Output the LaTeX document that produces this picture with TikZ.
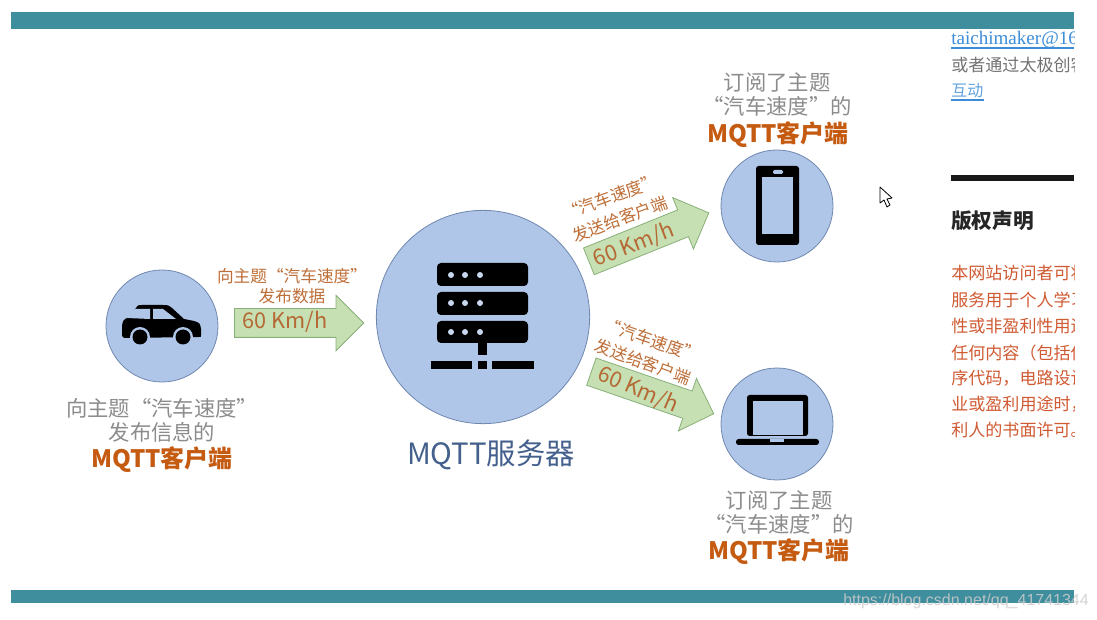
\documentclass[tikz,border=0pt]{standalone}
\usepackage{fontspec}
\setmainfont{Noto Sans CJK SC}
\newfontfamily\latinserif{Liberation Serif}
\newfontfamily\latinsans{Liberation Sans}
\usetikzlibrary{shapes.arrows}
\definecolor{tealbar}{RGB}{63, 142, 158}
\definecolor{bubbleblue}{RGB}{176, 198, 232}
\definecolor{bubbleline}{RGB}{112, 136, 176}
\definecolor{arrowgreen}{RGB}{198, 224, 180}
\definecolor{arrowline}{RGB}{136, 176, 120}
\definecolor{captiongray}{RGB}{140, 140, 140}
\definecolor{clientorange}{RGB}{197, 90, 17}
\definecolor{labelorange}{RGB}{190, 110, 55}
\definecolor{serverblue}{RGB}{68, 96, 140}
\definecolor{linkblue}{RGB}{60, 140, 215}
\definecolor{noticered}{RGB}{208, 90, 50}
\tikzset{
    bubble/.style={circle, draw=bubbleline, fill=bubbleblue, line width=0.6pt, inner sep=0pt},
    datarrow/.style={single arrow, draw=arrowline, fill=arrowgreen, line width=0.6pt, inner xsep=0pt, inner ysep=10.5pt,
        minimum width=41pt, minimum height=97pt, single arrow head extend=10pt, single arrow tip angle=90, anchor=tail},
    caption/.style={color=captiongray, align=center, font=\fontsize{16}{18}\selectfont},
    client/.style={color=clientorange, font=\fontsize{18}{20}\selectfont\bfseries},
    datalabel/.style={color=labelorange, align=center, font=\fontsize{12.5}{14.5}\selectfont},
    speed/.style={color=labelorange!95!black, font=\fontsize{16.3}{18}\selectfont},
    notice/.style={color=noticered, anchor=west, inner xsep=0pt, font=\fontsize{12.8}{15}\selectfont},
}

\begin{document}
\begin{tikzpicture}[x=0.75pt, y=-0.75pt]
    % Frame to fix the page
    \fill[white] (0, 0) rectangle (1097, 620);
    \useasboundingbox (0, 0) rectangle (1097, 620);
    % Slide bars
    \fill[tealbar] (11,  12) rectangle (1074,  29);
    \fill[tealbar] (11, 590) rectangle (1074, 603);

    % Clients and server
    \node[bubble, minimum size= 84pt] (car)    at (162, 326) {};
    \node[bubble, minimum size=160pt] (server) at (483, 317) {};
    \node[bubble, minimum size= 84pt] (phone)  at (777, 206) {};
    \node[bubble, minimum size= 84pt] (laptop) at (777, 424) {};

    % Car icon
    \fill[black] (122, 336) -- (122, 326) .. controls (123, 320) .. (129, 317) -- (136, 308)
        .. controls (138, 305) .. (142, 305) -- (163, 305) .. controls (168, 305) .. (172, 308)
        -- (184, 319) -- (194, 321) .. controls (200, 323) .. (201, 329) -- (201, 335)
        .. controls (201, 337) .. (199, 337) -- (124, 338) -- cycle;
    \fill[bubbleblue] (127, 318) -- (135, 309) -- (150, 309) -- (150, 319) -- cycle;
    \fill[bubbleblue] (153, 309) -- (163, 309) -- (176, 319) -- (153, 319) -- cycle;
    \fill[bubbleblue] (140, 337) circle (10);
    \fill[bubbleblue] (183, 337) circle (10);
    \fill[black]      (140, 337) circle (7.5);
    \fill[black]      (183, 337) circle (7.5);

    % Server icon
    \fill[black, rounded corners=3pt] (437, 263) rectangle (528, 286);
    \fill[black, rounded corners=3pt] (437, 292) rectangle (528, 315);
    \fill[black, rounded corners=3pt] (437, 321) rectangle (528, 343);
    \fill[bubbleblue!70!white] (451, 275) circle (3) (465, 275) circle (3) (480, 275) circle (3);
    \fill[bubbleblue!70!white] (451, 303) circle (3) (465, 303) circle (3) (480, 303) circle (3);
    \fill[bubbleblue!70!white] (451, 332) circle (3) (465, 332) circle (3) (480, 332) circle (3);
    \fill[black] (478, 343) rectangle (487, 355);
    \fill[black] (431, 361) rectangle (472, 369);
    \fill[black] (478, 361) rectangle (487, 369);
    \fill[black] (492, 361) rectangle (534, 369);

    % Phone icon
    \fill[black, rounded corners=2pt] (756, 166) rectangle (799, 245);
    \fill[bubbleblue] (762, 177) rectangle (793, 234);
    \fill[bubbleblue, rounded corners=1pt] (773, 170) rectangle (783, 174);

    % Laptop icon
    \fill[black, rounded corners=2pt] (747, 395) rectangle (808, 436);
    \fill[bubbleblue] (753, 401) rectangle (803, 435);
    \fill[black, rounded corners=2pt] (736, 439) rectangle (819, 445);
    \fill[bubbleblue] (770, 439) rectangle (784, 442);

    % Data arrows
    \node[datarrow]              (pubarrow)    at (234, 323)     {};
    \node[datarrow, rotate= 22]  (phonearrow)  at (588.5, 261.5) {};
    \node[datarrow, rotate=-19]  (laptoparrow) at (591, 371.5)   {};

    % Arrow labels
    \node[datalabel] (publabel) at (292, 286) {向主题“汽车速度”\\发布数据};
    \node[speed]     (pubspeed) at (285, 322) {60 Km/h};
    \node[datalabel, rotate= 20] (phoneone)  at (611, 197) {“汽车速度”};
    \node[datalabel, rotate= 20] (phonetwo)  at (620, 219) {发送给客户端};
    \node[speed,     rotate= 21] (phonespeed) at (634, 245) {60 Km/h};
    \node[datalabel, rotate=-19] (laptopone) at (652, 340) {“汽车速度”};
    \node[datalabel, rotate=-20] (laptoptwo) at (643, 362) {发送给客户端};
    \node[speed,     rotate=-23] (laptopspeed) at (638, 390) {60 Km/h};

    % Captions
    \node[caption] (pubcaption) at (162, 420) {向主题“汽车速度”\\发布信息的};
    \node[client]  (pubclient)  at (162, 460) {MQTT客户端};
    \node[color=serverblue, font=\fontsize{22}{24}\selectfont] (servername) at (491, 455) {MQTT服务器};
    \node[caption] (phonecaption) at (777, 94) {订阅了主题\\“汽车速度”的};
    \node[client]  (phoneclient)  at (778, 135) {MQTT客户端};
    \node[caption] (laptopcaption) at (779, 512) {订阅了主题\\“汽车速度”的};
    \node[client]  (laptopclient)  at (779, 552) {MQTT客户端};

    % Mouse pointer
    \draw[black, fill=white, line width=0.6pt, line join=round] (880, 187) -- (880, 203) -- (884, 200)
        -- (887, 207) -- (890, 205) -- (887, 199) -- (892, 198) -- cycle;

    % Web page cut off at the slide edge
    \begin{scope}
        \clip (940, 30) rectangle (1074, 450);
        \node[color=linkblue, anchor=west, inner xsep=0pt, font=\latinserif\fontsize{14.3}{16}\selectfont] (mailaddr) at (951, 40) {taichimaker@163.com};
        \fill[linkblue] (951, 47.5) rectangle (1074, 49);
        \node[color=black!55, anchor=west, inner xsep=0pt, font=\fontsize{12.8}{15}\selectfont] (contactline) at (951, 65) {或者通过太极创客};
        \node[color=linkblue!80!white, anchor=west, inner xsep=0pt, font=\fontsize{12}{15}\selectfont] (interact) at (951, 91) {互动};
        \fill[linkblue] (951, 99) rectangle (984, 101);
        \fill[black!90] (951, 175) rectangle (1074, 181);
        \node[color=black!85, anchor=west, inner xsep=0pt, font=\fontsize{15.5}{18}\selectfont\bfseries] (rightshead) at (951, 221) {版权声明};
        \node[notice] (noticeone)   at (951, 273) {本网站访问者可将};
        \node[notice] (noticetwo)   at (951, 300) {服务用于个人学习};
        \node[notice] (noticethree) at (951, 326) {性或非盈利性用途};
        \node[notice] (noticefour)  at (951, 353) {任何内容（包括但};
        \node[notice] (noticefive)  at (951, 378) {序代码，电路设计};
        \node[notice] (noticesix)   at (951, 404) {业或盈利用途时，};
        \node[notice] (noticeseven) at (951, 430) {利人的书面许可。};
    \end{scope}

    % Watermark
    \node[color=black!20!white, opacity=0.85, anchor=west, inner xsep=0pt, font=\latinsans\fontsize{12}{14}\selectfont] (watermark) at (843, 601) {https://blog.csdn.net/qq\_41741344};
\end{tikzpicture}
\end{document}
